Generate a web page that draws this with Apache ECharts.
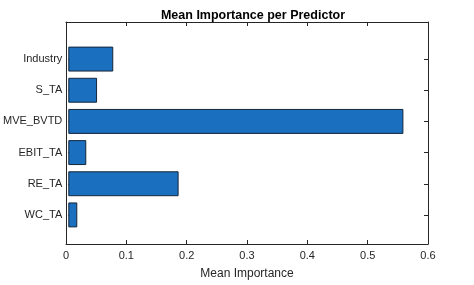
<!DOCTYPE html>
<html>
<head>
<meta charset="utf-8">
<script src="https://cdn.jsdelivr.net/npm/echarts@6/dist/echarts.min.js"></script>
<style>
  html, body { margin: 0; padding: 0; background: #fff; }
  #chart { width: 474px; height: 285px; }
</style>
</head>
<body>
<div id="chart"></div>
<script>
// predictors, bottom to top like the reference
const predictors = ['WC_TA', 'RE_TA', 'EBIT_TA', 'MVE_BVTD', 'S_TA', 'Industry']
const importance = [0.015, 0.184, 0.030, 0.559, 0.048, 0.075]
const xTicks = [0, 0.1, 0.2, 0.3, 0.4, 0.5, 0.6]

const font = 'Liberation Sans, Arial, sans-serif'
const axisColor = '#262626'

const myChart = echarts.init(document.getElementById('chart'), null, { renderer: 'canvas' })

const frameLine = { show: true, onZero: false, lineStyle: { color: axisColor, width: 1 } }

const option = {
  animation: false,
  title: {
    text: 'Mean Importance per Predictor',
    left: 248,
    top: 4,
    textAlign: 'center',
    textStyle: { fontFamily: font, fontSize: 12.5, fontWeight: 'bold', color: '#000' },
  },
  grid: [
    // frame box
    { left: 66, right: 46, top: 22, bottom: 33 },
    // bars
    { left: 66, right: 46, top: 43.5, bottom: 54.5 },
  ],
  xAxis: [
    {
      gridIndex: 0,
      type: 'value',
      position: 'bottom',
      min: xTicks[0],
      max: xTicks[xTicks.length - 1],
      interval: 0.1,
      name: 'Mean Importance',
      nameLocation: 'middle',
      nameGap: 24,
      nameTextStyle: { fontFamily: font, fontSize: 12, color: axisColor },
      axisLine: frameLine,
      axisTick: { show: true, inside: true, length: 4, lineStyle: { color: axisColor } },
      axisLabel: { fontFamily: font, fontSize: 11, color: axisColor, margin: 6 },
      splitLine: { show: false },
    },
    {
      gridIndex: 0,
      type: 'value',
      position: 'top',
      min: xTicks[0],
      max: xTicks[xTicks.length - 1],
      interval: 0.1,
      axisLine: frameLine,
      axisTick: { show: true, inside: true, length: 4, lineStyle: { color: axisColor } },
      axisLabel: { show: false },
      splitLine: { show: false },
    },
    {
      gridIndex: 1,
      type: 'value',
      min: 0,
      max: 0.6,
      show: false,
    },
  ],
  yAxis: [
    {
      gridIndex: 0,
      type: 'value',
      position: 'left',
      axisLine: frameLine,
      axisTick: { show: false },
      axisLabel: { show: false },
      splitLine: { show: false },
    },
    {
      gridIndex: 0,
      type: 'value',
      position: 'right',
      axisLine: frameLine,
      axisTick: { show: false },
      axisLabel: { show: false },
      splitLine: { show: false },
    },
    {
      gridIndex: 1,
      type: 'category',
      position: 'left',
      data: predictors,
      axisLine: { show: false },
      axisTick: { show: true, inside: true, alignWithLabel: true, length: 4, lineStyle: { color: axisColor } },
      axisLabel: { fontFamily: font, fontSize: 11, color: axisColor, margin: 6 },
      splitLine: { show: false },
    },
    {
      gridIndex: 1,
      type: 'category',
      position: 'right',
      data: predictors,
      axisLine: { show: false },
      axisTick: { show: true, inside: true, alignWithLabel: true, length: 4, lineStyle: { color: axisColor } },
      axisLabel: { show: false },
      splitLine: { show: false },
    },
  ],
  series: [
    {
      name: 'Mean Importance',
      type: 'bar',
      xAxisIndex: 2,
      yAxisIndex: 2,
      barWidth: '80%',
      itemStyle: {
        color: '#1a6fbf',
        borderColor: '#14263a',
        borderWidth: 1,
      },
      data: importance,
    },
  ],
}

myChart.setOption(option)

window.addEventListener('resize', function () {
  myChart && myChart.resize()
})
</script>
</body>
</html>
